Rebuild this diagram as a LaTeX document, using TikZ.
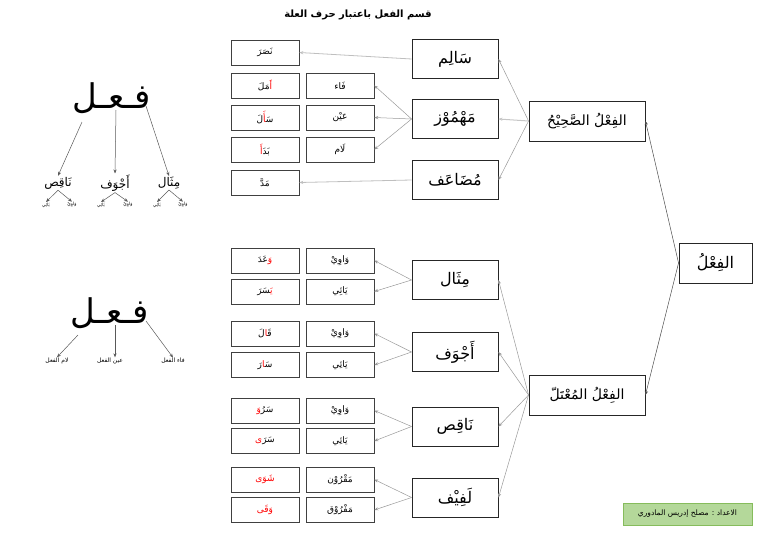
\documentclass[tikz,border=0pt]{standalone}
\usepackage{fontspec}
\usetikzlibrary{arrows.meta}
\newfontfamily\arabicfont[Script=Arabic]{DejaVu Sans}
\TeXXeTstate=1
\newcommand\zwj{\char"200D\relax}
\definecolor{credfill}{HTML}{B4D89A}
\definecolor{credline}{HTML}{86BC5C}
\begin{document}
\begin{tikzpicture}[x=1pt,y=-1pt,
    >={Stealth[length=4pt,width=3.2pt]},
    bigbox/.style={draw=black!85,line width=0.9pt,minimum width=86pt,minimum height=39pt,inner sep=0pt,font=\arabicfont\fontsize{16}{18}\selectfont},
    mainbox/.style={bigbox,minimum width=116pt,minimum height=40pt,font=\arabicfont\fontsize{14}{16}\selectfont},
    smallbox/.style={draw=black!75,line width=0.6pt,minimum width=68pt,minimum height=25pt,inner sep=0pt,font=\arabicfont\fontsize{9}{11}\selectfont},
    link/.style={->,draw=gray!80,line width=0.5pt},
    lbl/.style={inner sep=1pt,font=\arabicfont\fontsize{12}{14}\selectfont},
    tinylbl/.style={inner sep=0.5pt,font=\arabicfont\fontsize{4.5}{5}\selectfont},
    radice/.style={inner sep=0pt,font=\arabicfont\fontsize{34}{36}\selectfont}]
    \useasboundingbox (0,0) rectangle (768,543);

    % titolo
    \node[font=\arabicfont\bfseries\fontsize{10}{12}\selectfont] (titolo) at (358,15) {\beginR قسم الفعل باعتبار حرف العلة\endR};

    % destra: il verbo e i due rami
    \node[bigbox,minimum width=73pt,minimum height=40pt] (fil) at (715.5,263) {الفِعْلُ};
    \node[mainbox] (sahih) at (587,121) {\beginR الفِعْلُ الصَّحِيْحُ\endR};
    \node[mainbox] (mutal) at (587,395) {\beginR الفِعْلُ المُعْتَلّ\endR};
    \draw[link,draw=gray!60!black] (fil.west) -- (sahih.east);
    \draw[link,draw=gray!60!black] (fil.west) -- (mutal.east);

    % sahih: salim, mahmuz, mudaaf
    \node[bigbox] (salim) at (455,59) {سَالِم};
    \node[bigbox] (mahmuz) at (455,119) {مَهْمُوْز};
    \node[bigbox] (mudaaf) at (455,180) {مُضَاعَف};
    \draw[link] (sahih.west) -- (salim.east);
    \draw[link,draw=gray!45,line width=1pt] (sahih.west) -- (mahmuz.east);
    \draw[link] (sahih.west) -- (mudaaf.east);

    \node[smallbox] (nasara) at (265,52.5) {نَصَرَ};
    \node[smallbox] (madda) at (265,182.5) {مَدَّ};
    \draw[link,draw=gray!50,line width=0.8pt] (salim.west) -- (nasara.east);
    \draw[link,draw=gray!50,line width=0.8pt] (mudaaf.west) -- (madda.east);

    \node[smallbox] (faa) at (340,85.5) {فَاء};
    \node[smallbox] (ayn) at (340,117.5) {عَيْن};
    \node[smallbox] (lam) at (340,149.5) {لَام};
    \node[smallbox] (amala) at (265,85.5) {مَلَ{\color{red}أَ}};
    \node[smallbox] (saala) at (265,117.5) {لَ{\color{red}\zwj أَ}سَ\zwj};
    \node[smallbox] (badaa) at (265,149.5) {{\color{red}أَ}بَدَ};
    \draw[link] (mahmuz.west) -- (faa.east);
    \draw[link] (mahmuz.west) -- (ayn.east);
    \draw[link] (mahmuz.west) -- (lam.east);

    % mutal: mithal, ajwaf, naqis, lafif
    \node[bigbox] (mithal) at (455,280) {مِثَال};
    \node[bigbox] (ajwaf) at (455,352) {أَجْوَف};
    \node[bigbox] (naqis) at (455,426.5) {نَاقِص};
    \node[bigbox] (lafif) at (455,497.5) {لَفِيْف};
    \draw[link] (mutal.west) -- (mithal.east);
    \draw[link] (mutal.west) -- (ajwaf.east);
    \draw[link] (mutal.west) -- (naqis.east);
    \draw[link] (mutal.west) -- (lafif.east);

    \node[smallbox] (wawiA) at (340,260.5) {وَاوِيْ};
    \node[smallbox] (yaiA) at (340,291.5) {يَائِي};
    \node[smallbox] (waada) at (265,260.5) {عَدَ{\color{red}وَ}};
    \node[smallbox] (yasara) at (265,291.5) {\zwj سَرَ{\color{red}يَ\zwj}};
    \draw[link] (mithal.west) -- (wawiA.east);
    \draw[link] (mithal.west) -- (yaiA.east);

    \node[smallbox] (wawiB) at (340,333.5) {وَاوِيْ};
    \node[smallbox] (yaiB) at (340,365) {يَائِي};
    \node[smallbox] (qaala) at (265,333.5) {لَ{\color{red}\zwj ا}قَ\zwj};
    \node[smallbox] (saara) at (265,365) {رَ{\color{red}\zwj ا}سَ\zwj};
    \draw[link] (ajwaf.west) -- (wawiB.east);
    \draw[link] (ajwaf.west) -- (yaiB.east);

    \node[smallbox] (wawiC) at (340,410.5) {وَاوِيْ};
    \node[smallbox] (yaiC) at (340,441) {يَائِي};
    \node[smallbox] (saruwa) at (265,410.5) {{\color{red}وَ}سَرُ};
    \node[smallbox] (sara) at (265,441) {{\color{red}ى}سَرَ};
    \draw[link] (naqis.west) -- (wawiC.east);
    \draw[link] (naqis.west) -- (yaiC.east);

    \node[smallbox] (maqrun) at (340,479.5) {مَقْرُوْن};
    \node[smallbox] (mafruq) at (340,510) {مَفْرُوْق};
    \node[smallbox,text=red] (shawa) at (265,479.5) {شَوَى};
    \node[smallbox,text=red] (waqa) at (265,510) {وَقَى};
    \draw[link] (lafif.west) -- (maqrun.east);
    \draw[link] (lafif.west) -- (mafruq.east);

    % sinistra in alto: posizione della lettera debole
    \node[radice] (radA) at (112,98) {فـعـل};
    \coordinate (faA) at (146,106);
    \coordinate (ainA) at (116,110);
    \coordinate (lamA) at (82,122);
    \node[lbl] (mithalA) at (169,183) {مِثَال};
    \node[lbl] (ajwafA) at (115,183) {أَجْوَف};
    \node[lbl] (naqisA) at (58,183) {نَاقِص};
    \draw[link,draw=gray!70!black] (faA) -- (mithalA.north);
    \draw[link,draw=gray!70!black] (ainA) -- (ajwafA.north);
    \draw[link,draw=gray!70!black] (lamA) -- (naqisA.north);

    \node[tinylbl] (mithalW) at (183,205) {وَاوِيْ};
    \node[tinylbl] (mithalY) at (157,205) {يَائِي};
    \node[tinylbl] (ajwafW) at (128,205) {وَاوِيْ};
    \node[tinylbl] (ajwafY) at (101,205) {يَائِي};
    \node[tinylbl] (naqisW) at (72,205) {وَاوِيْ};
    \node[tinylbl] (naqisY) at (46,205) {يَائِي};
    \draw[link,draw=gray!70!black] (mithalA.south) -- (mithalW.north);
    \draw[link,draw=gray!70!black] (mithalA.south) -- (mithalY.north);
    \draw[link,draw=gray!70!black] (ajwafA.south) -- (ajwafW.north);
    \draw[link,draw=gray!70!black] (ajwafA.south) -- (ajwafY.north);
    \draw[link,draw=gray!70!black] (naqisA.south) -- (naqisW.north);
    \draw[link,draw=gray!70!black] (naqisA.south) -- (naqisY.north);

    % sinistra in basso: nomi delle lettere
    \node[radice] (radB) at (110,313) {فـعـل};
    \coordinate (faB) at (146,321);
    \coordinate (ainB) at (115,325);
    \coordinate (lamB) at (78,335);
    \node[tinylbl,font=\arabicfont\fontsize{6}{7}\selectfont] (faaB) at (173,361) {\beginR فاء الفعل\endR};
    \node[tinylbl,font=\arabicfont\fontsize{6}{7}\selectfont] (aynB) at (110,361) {\beginR عين الفعل\endR};
    \node[tinylbl,font=\arabicfont\fontsize{6}{7}\selectfont] (lamB2) at (57,361) {\beginR لام الفعل\endR};
    \draw[link,draw=gray!70!black] (faB) -- (faaB.north);
    \draw[link,draw=gray!70!black] (ainB) -- (ainB |- aynB.north);
    \draw[link,draw=gray!70!black] (lamB) -- (lamB2.north);

    % firma
    \node[draw=credline,fill=credfill,line width=0.8pt,minimum width=129pt,minimum height=22pt,font=\arabicfont\fontsize{7.5}{9}\selectfont] (firma) at (687.5,514) {\beginR الاعداد : مصلح إدريس المادوري\endR};
\end{tikzpicture}
\end{document}
